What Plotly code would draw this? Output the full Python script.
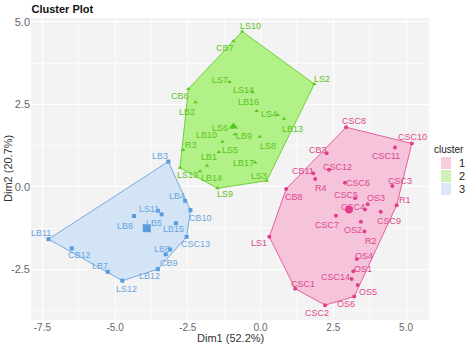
import plotly.graph_objects as go

# ---- data: principal-component scores per sample, by cluster ----
c1_labels = ["CSC8", "CSC10", "CSC11", "CB3", "CSC12", "CB11", "R4", "CSC6", "CB8", "CSC3",
             "CSC5", "R1", "OS3", "CSC4", "CSC9", "CSC7", "OS2", "R2", "LS1", "OS4",
             "OS1", "CSC14", "CSC1", "OS5", "OS6", "CSC2"]
c1_x = [2.94, 5.20, 4.62, 2.27, 2.35, 1.81, 1.88, 2.90, 0.88, 4.53,
        3.25, 4.68, 3.68, 3.59, 4.13, 2.59, 3.45, 3.57, 0.30, 3.31,
        3.19, 3.13, 1.19, 3.34, 3.22, 2.22]
c1_y = [1.81, 1.32, 1.20, 1.02, 0.52, 0.42, 0.24, 0.13, -0.06, 0.03,
        -0.34, -0.55, -0.52, -0.68, -0.75, -0.87, -1.05, -1.35, -1.51, -2.18,
        -2.55, -2.79, -3.08, -2.97, -3.32, -3.58]

c2_labels = ["LS10", "CB7", "LS2", "CB6", "LS7", "LS14", "LB16", "LB2", "LS4", "LB13",
             "LS6", "LB9", "LB10", "LS5", "LS8", "R3", "LB1", "LB17", "LS13", "LB14",
             "LS3", "LS9"]
c2_x = [-0.63, -0.93, 1.85, -2.48, -1.07, -0.28, -0.13, -2.24, 0.59, 0.81,
        -0.99, -0.88, -1.31, -1.43, -0.02, -2.66, -1.84, -0.19, -2.77, -2.08,
        0.21, -1.48]
c2_y = [4.71, 4.42, 3.12, 2.97, 3.18, 2.87, 2.30, 2.57, 2.18, 2.07,
        1.80, 1.60, 1.37, 1.06, 1.52, 1.12, 0.64, 0.74, 0.58, 0.48,
        0.19, -0.04]

c3_labels = ["LB3", "LB4", "CB10", "LS11", "LB5", "LB8", "LB15", "LB11", "CSC13", "CB12",
             "LB6", "CB9", "LB12", "LB7", "LS12"]
c3_x = [-3.17, -2.59, -2.41, -3.53, -3.40, -4.35, -2.91, -7.29, -2.54, -6.49,
        -3.11, -3.26, -3.53, -5.25, -4.75]
c3_y = [0.77, -0.42, -0.70, -0.72, -0.83, -0.88, -1.10, -1.58, -1.51, -1.86,
        -1.89, -2.04, -2.49, -2.57, -2.84]

# cluster centres
centre_x = [3.04, -0.93, -3.91]
centre_y = [-0.68, 1.83, -1.25]

cluster_names = ["1", "2", "3"]
x_ticks = [-7.5, -5.0, -2.5, 0.0, 2.5, 5.0]
y_ticks = [-2.5, 0.0, 2.5, 5.0]

# ---- styling ----
line_cols = ["#E33D8C", "#58C81C", "#5B9BDC"]
text_cols = ["#E0478F", "#5CC422", "#6AA6E0"]
fill_cols = ["rgba(246,180,210,0.75)", "rgba(165,240,115,0.85)", "rgba(205,225,246,0.85)"]
key_cols = ["#F7CCDF", "#CDF3B4", "#DCE8F6"]
symbols = ["circle", "triangle-up", "square"]
FONT = "Liberation Sans, Arial, sans-serif"

# label nudges in screen pixels (dx right, dy down)
nudges = {
    "CSC8": (8, -6), "CSC10": (1, -6), "CSC11": (-9, 9), "CB3": (-9, -3), "CSC12": (9, -3),
    "CB11": (-10, -2), "R4": (6, 9), "CSC6": (13, 0), "CB8": (8, 8), "CSC3": (8, -5),
    "CSC5": (-9, -3), "R1": (8, -5), "OS3": (8, -6), "CSC4": (-12, -2), "CSC9": (8, 9),
    "CSC7": (-9, 9), "OS2": (-8, 8), "R2": (7, 9), "LS1": (-10, 6), "OS4": (7, -3),
    "OS1": (10, -2), "CSC14": (-16, -2), "CSC1": (8, -5), "OS5": (10, 7), "OS6": (-8, 7),
    "CSC2": (-8, 8),
    "LS10": (8, -6), "CB7": (-8, 7), "LS2": (8, -5), "CB6": (-8, 7), "LS7": (-9, -2),
    "LS14": (-9, -2), "LB16": (-8, -9), "LB2": (-8, 10), "LS4": (-9, -1), "LB13": (8, 10),
    "LS6": (-12, 0), "LB9": (9, 2), "LB10": (-16, -7), "LS5": (11, -2), "LS8": (8, 9),
    "R3": (8, -5), "LB1": (2, -9), "LB17": (-12, 0), "LS13": (8, 7), "LB14": (11, 7),
    "LS3": (-8, -5), "LS9": (8, 6),
    "LB3": (-8, -6), "LB4": (-8, -5), "CB10": (10, 8), "LS11": (-9, -2), "LB5": (-8, 9),
    "LB8": (-9, 10), "LB15": (-2, 6), "LB11": (-7, -6), "CSC13": (9, 7), "CB12": (8, 7),
    "LB6": (-8, 0), "CB9": (3, 9), "LB12": (-8, 7), "LB7": (-8, -6), "LS12": (4, 8),
}


def convex_hull(xs, ys):
    pts = sorted(set(zip(xs, ys)))

    def cross(o, a, b):
        return (a[0] - o[0]) * (b[1] - o[1]) - (a[1] - o[1]) * (b[0] - o[0])

    lower, upper = [], []
    for p in pts:
        while len(lower) >= 2 and cross(lower[-2], lower[-1], p) <= 0:
            lower.pop()
        lower.append(p)
    for p in reversed(pts):
        while len(upper) >= 2 and cross(upper[-2], upper[-1], p) <= 0:
            upper.pop()
        upper.append(p)
    hull = lower[:-1] + upper[:-1]
    hull.append(hull[0])
    return [p[0] for p in hull], [p[1] for p in hull]


clusters = [(c1_labels, c1_x, c1_y), (c2_labels, c2_x, c2_y), (c3_labels, c3_x, c3_y)]

fig = go.Figure()
annotations = []

for k, (labs, xs, ys) in enumerate(clusters):
    hx, hy = convex_hull(xs, ys)
    fig.add_trace(go.Scatter(
        x=hx, y=hy, mode="lines", fill="toself", fillcolor=fill_cols[k],
        line=dict(color=line_cols[k], width=0.8), hoverinfo="skip", showlegend=False))

for k, (labs, xs, ys) in enumerate(clusters):
    fig.add_trace(go.Scatter(
        x=xs, y=ys, mode="markers", text=labs,
        marker=dict(symbol=symbols[k], size=4, color=line_cols[k], line=dict(width=0)),
        showlegend=False))
    for lab, xv, yv in zip(labs, xs, ys):
        dx, dy = nudges.get(lab, (0, -7))
        annotations.append(dict(
            x=xv, y=yv, xref="x", yref="y", text=lab, showarrow=False,
            xshift=dx, yshift=-dy, font=dict(size=9, color=text_cols[k], family=FONT)))

fig.add_trace(go.Scatter(
    x=centre_x, y=centre_y, mode="markers",
    marker=dict(symbol=symbols, size=8, color=line_cols, line=dict(width=0)),
    showlegend=False, hoverinfo="skip"))

# ---- hand-built legend on the right ----
PL, PR, PT, PB = 31, 429, 18, 320


def px_to_paper(px, py):
    return (px - PL) / (PR - PL), (PB - py) / (PB - PT)


def paper_text(px, py, text, size, color, **extra):
    x, y = px_to_paper(px, py)
    annotations.append(dict(x=x, y=y, xref="paper", yref="paper", text=text,
                            xanchor="center", yanchor="middle", showarrow=False,
                            font=dict(size=size, color=color, family=FONT), **extra))


shapes = []
paper_text(449, 149, "cluster", 10, "#222222")
for k, name in enumerate(cluster_names):
    cy = 163 + 13 * k
    x0, y0 = px_to_paper(441, cy - 6)
    x1, y1 = px_to_paper(451, cy + 6)
    shapes.append(dict(type="rect", xref="paper", yref="paper", x0=x0, x1=x1, y0=y1, y1=y0,
                       fillcolor=key_cols[k], line=dict(width=0)))
    paper_text(462, cy, name, 11, "#222222")

# axis titles placed as plain text so the panel keeps its fixed margins
paper_text(230, 338, "Dim1 (52.2%)", 11, "#333333")
paper_text(8, 169, "Dim2 (20.7%)", 11, "#333333", textangle=-90)

fig.update_layout(
    width=474, height=345,
    margin=dict(l=PL, r=474 - PR, t=PT, b=345 - PB, autoexpand=False),
    paper_bgcolor="white", plot_bgcolor="#F3F3F3",
    font=dict(family=FONT),
    title=dict(text="<b>Cluster Plot</b>", x=31.5 / 474, xanchor="left", y=1 - 9 / 345,
               yanchor="middle", font=dict(size=11, color="#111111")),
    annotations=annotations, shapes=shapes, showlegend=False,
)
fig.update_xaxes(
    automargin=False,
    range=[-7.89, 5.79], tickvals=x_ticks, ticktext=[f"{v:.1f}" for v in x_ticks],
    showgrid=True, gridcolor="#FFFFFF", gridwidth=1, zeroline=False,
    minor=dict(tickvals=[v + 1.25 for v in [-10.0] + x_ticks], showgrid=True,
               gridcolor="#FAFAFA", gridwidth=0.6),
    tickfont=dict(size=10, color="#666666"), ticks="", ticklen=0)
fig.update_yaxes(
    automargin=False,
    range=[-4.03, 5.12], tickvals=y_ticks, ticktext=[f"{v:.1f}" for v in y_ticks],
    showgrid=True, gridcolor="#FFFFFF", gridwidth=1, zeroline=False,
    minor=dict(tickvals=[v + 1.25 for v in [-5.0] + y_ticks], showgrid=True,
               gridcolor="#FAFAFA", gridwidth=0.6),
    tickfont=dict(size=11, color="#666666"), ticks="", ticklen=0)

fig.write_html("out.html")
